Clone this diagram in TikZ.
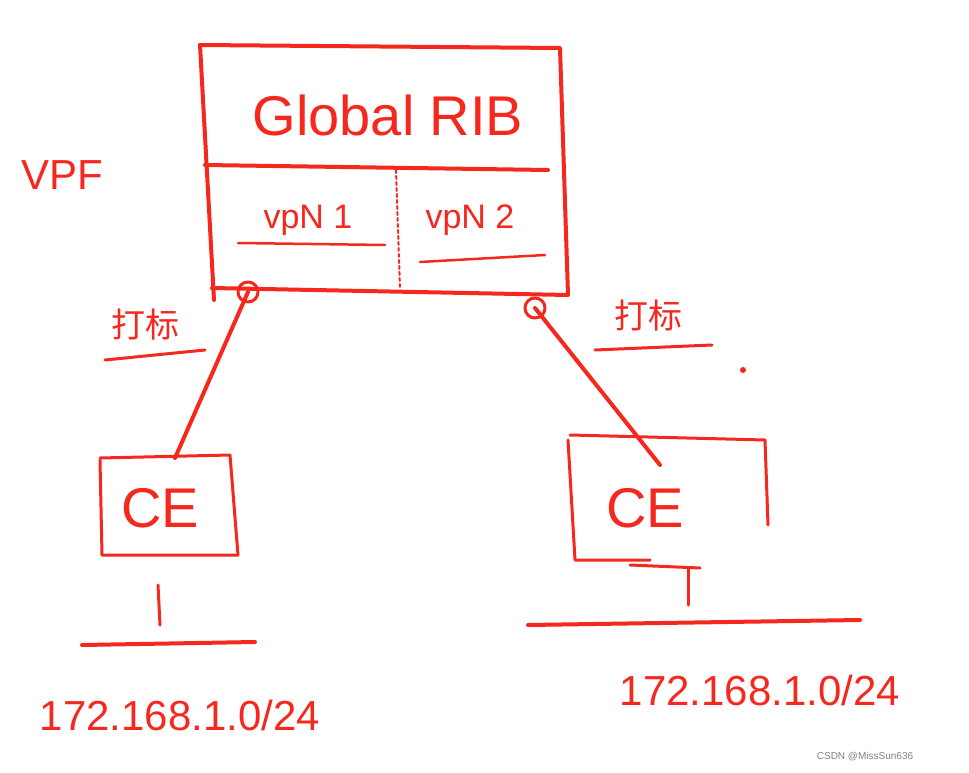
\documentclass[tikz,border=0pt]{standalone}
\usepackage{fontspec}
\setmainfont{Liberation Sans}
\newfontfamily\cjk{Noto Sans CJK SC}
\definecolor{pen}{RGB}{245,40,30}
\begin{document}
\begin{tikzpicture}[x=1pt,y=-1pt,
  ink/.style={draw=pen,line width=4pt,line cap=round,line join=round},
  lbl/.style={text=pen,inner sep=0pt},
  big/.style={lbl,font=\fontsize{56}{56}\selectfont},
  mid/.style={lbl,font=\fontsize{42}{42}\selectfont},
  sml/.style={lbl,font=\fontsize{34}{34}\selectfont}]
\useasboundingbox (0,0) rectangle (969,773);
% RIB box
\draw[ink] (200,45) -- (560,48) -- (568,295) -- (212,288);
\draw[ink] (200,45) -- (214,300);
\draw[ink] (205,165) -- (548,170);
\draw[ink,dashed,line width=2pt] (396,170) -- (400,288);
\node[big] (rib) at (388,115) {Global RIB};
\node[sml] (v1) at (308,220) {vpN 1};
\node[sml] (v2) at (470,220) {vpN 2};
\draw[ink,line width=2.5pt] (238,243) -- (385,245);
\draw[ink,line width=2.5pt] (420,262) -- (545,255);
\node[mid] (vpf) at (62,175) {VPF};
% ports
\coordinate (p1) at (248,292);
\coordinate (p2) at (535,308);
\draw[ink,line width=3pt] (p1) circle (10);
\draw[ink,line width=3pt] (p2) circle (10);
% CE boxes
\node[big] (ce1) at (160,508) {CE};
\node[big] (ce2) at (645,508) {CE};
\coordinate (e1) at (175,458);
\coordinate (e2) at (660,465);
\draw[ink,line width=3pt] (100,458) -- (230,455) -- (238,555);
\draw[ink,line width=3pt] (100,460) -- (102,555) -- (238,555);
\draw[ink,line width=3pt] (570,435) -- (765,440) -- (768,525);
\draw[ink,line width=3pt] (568,440) -- (575,560) -- (650,560);
% links
\draw[ink] (p1) -- (e1);
\draw[ink] (p2) -- (e2);
\node[sml] (t1) at (145,325) {\cjk 打标};
\node[sml] (t2) at (648,316) {\cjk 打标};
\draw[ink,line width=3pt] (105,360) -- (205,350);
\draw[ink,line width=3pt] (595,350) -- (712,345);
\fill[pen] (743,370) circle (3);
% LAN
\draw[ink,line width=3pt] (158,585) -- (160,625);
\draw[ink] (82,645) -- (255,642);
\draw[ink,line width=3pt] (688,568) -- (688,605);
\draw[ink,line width=3pt] (630,565) -- (700,568);
\draw[ink] (528,625) -- (860,620);
\node[mid] (n1) at (180,715) {172.168.1.0/24};
\node[mid] (n2) at (760,690) {172.168.1.0/24};
\node[font=\normalsize,text=gray,inner sep=0pt] (wm) at (865,757) {CSDN @MissSun636};
\end{tikzpicture}
\end{document}
